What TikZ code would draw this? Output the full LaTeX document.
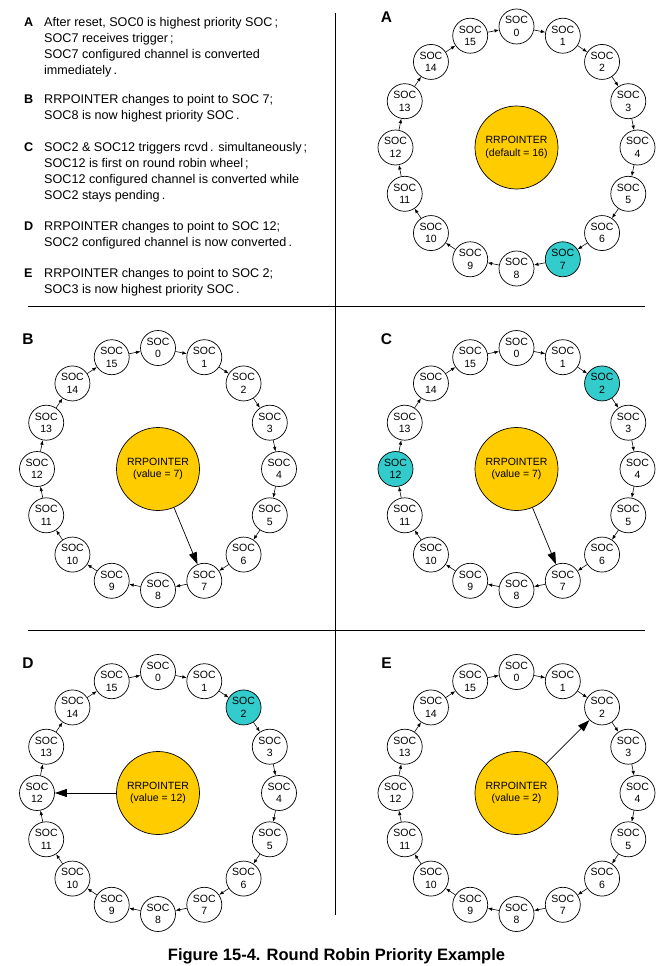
\documentclass[tikz,border=0pt]{standalone}
\usepackage{fontspec}
\setmainfont{Liberation Sans}
\usetikzlibrary{arrows.meta}

\definecolor{rryellow}{RGB}{255,204,0}
\definecolor{socteal}{RGB}{51,204,204}

\begin{document}
\begin{tikzpicture}[x=1pt, y=-1pt,
    soc/.style={draw, circle, fill=white, line width=0.7pt, minimum size=35pt, inner sep=0pt, align=center, font=\fontsize{10.5}{12.5}\selectfont},
    hot/.style={fill=socteal},
    rr/.style={draw, circle, fill=rryellow, line width=0.7pt, minimum size=83pt, inner sep=0pt, align=center, font=\fontsize{10.5}{12.5}\selectfont},
    ring/.style={-{Latex[length=4.5pt,width=3.5pt]}, line width=0.6pt},
    pointer/.style={-{Triangle[length=12pt,width=8pt]}, line width=0.7pt},
    tag/.style={anchor=base, font=\bfseries\fontsize{15.5}{18}\selectfont},
    letter/.style={anchor=north west, inner sep=0pt, font=\bfseries\fontsize{12.6}{16}\selectfont},
    note/.style={anchor=north west, align=left, inner sep=0pt, font=\fontsize{12.6}{16}\selectfont},
    socA7/.style=hot, socC2/.style=hot, socC12/.style=hot, socD2/.style=hot]

    \useasboundingbox (0,0) rectangle (669,966);

    % step notes
    \node[letter] (letA) at (24,17.5) {A};
    \node[note] (noteA) at (44,17.5) {After reset, SOC0 is highest priority SOC\,;\\SOC7 receives trigger\,;\\SOC7 configured channel is converted\\immediately\,.};
    \node[letter] (letB) at (24,94.5) {B};
    \node[note] (noteB) at (44,94.5) {RRPOINTER changes to point to SOC 7;\\SOC8 is now highest priority SOC\,.};
    \node[letter] (letC) at (24,142.5) {C};
    \node[note] (noteC) at (44,142.5) {SOC2 \& SOC12 triggers rcvd\,. simultaneously\,;\\SOC12 is first on round robin wheel\,;\\SOC12 configured channel is converted while\\SOC2 stays pending\,.};
    \node[letter] (letD) at (24,221.5) {D};
    \node[note] (noteD) at (44,221.5) {RRPOINTER changes to point to SOC 12;\\SOC2 configured channel is now converted\,.};
    \node[letter] (letE) at (24,268.5) {E};
    \node[note] (noteE) at (44,268.5) {RRPOINTER changes to point to SOC 2;\\SOC3 is now highest priority SOC\,.};

    % dividers
    \draw[line width=0.8pt] (335,13) -- (335,915);
    \draw[line width=0.8pt] (28,306) -- (645,306);
    \draw[line width=0.8pt] (28,630) -- (645,630);

    % the five wheels
    \foreach \p/\cx/\cy/\rrtext in {A/516.5/147.5/default = 16, B/158/469/value = 7,
        C/516.5/469/value = 7, D/158/793/value = 12, E/516.5/793/value = 2} {
        \begin{scope}[shift={(\cx,\cy)}]
            \node[rr] (rr\p) at (0,0) {RRPOINTER\\(\rrtext)};
            \node[tag] (tag\p) at (-130,-124.5) {\p};
            \foreach \i in {0,...,15}
                \node[soc, soc\p\i/.try] (\p\i) at (90-22.5*\i:121pt) {SOC\\\i};
            \foreach \i [evaluate=\i as \j using {int(mod(\i+1,16))}] in {0,...,15}
                \path[ring] (\p\i) edge (\p\j);
        \end{scope}
    }

    % pointer arrows
    \draw[pointer] (rrB) -- (B7);
    \draw[pointer] (rrC) -- (C7);
    \draw[pointer] (rrD) -- (D12);
    \draw[pointer] (rrE) -- (E2);

    \node[anchor=base, font=\bfseries\fontsize{16.5}{20}\selectfont] (title) at (336.5,960) {Figure 15-4. Round Robin Priority Example};
\end{tikzpicture}
\end{document}
